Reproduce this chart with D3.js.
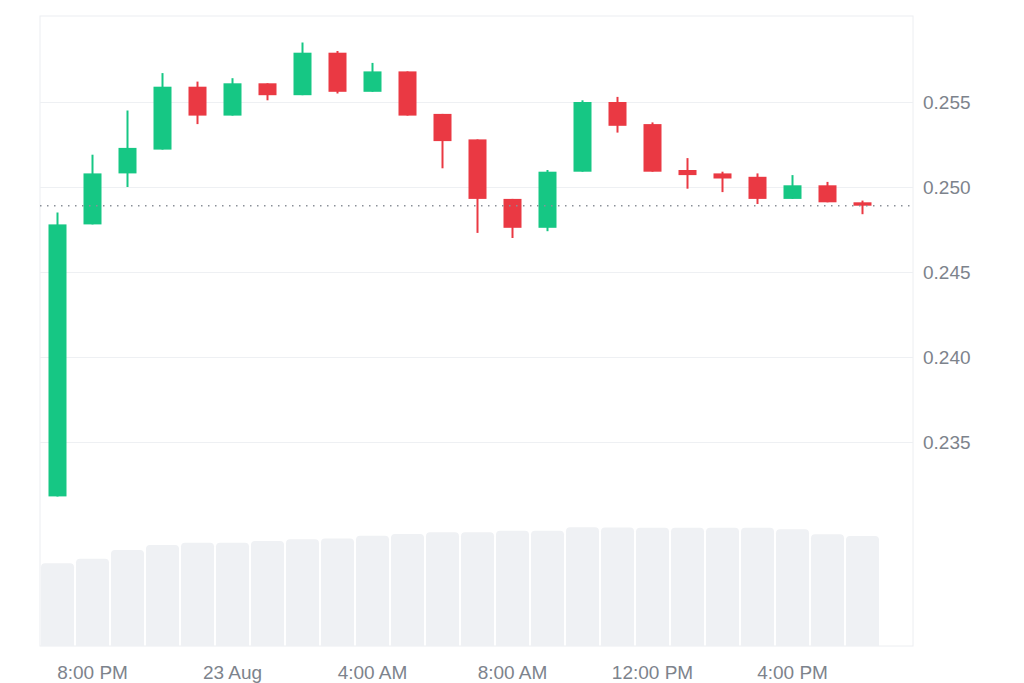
<!DOCTYPE html>
<html>
<head>
<meta charset="utf-8">
<script src="https://cdn.jsdelivr.net/npm/d3@7"></script>
<style>
  html, body { margin: 0; padding: 0; background: #fff; }
  svg { display: block; }
</style>
</head>
<body>
<svg id="chart" width="1024" height="683"></svg>
<script>
// ---- data (hourly candles, 22 Aug 7:00 PM -> 23 Aug 6:00 PM) ----
const hours = ["19:00","20:00","21:00","22:00","23:00","00:00","01:00","02:00","03:00","04:00","05:00","06:00",
               "07:00","08:00","09:00","10:00","11:00","12:00","13:00","14:00","15:00","16:00","17:00","18:00"];
const opens  = [0.2318,0.2478,0.2508,0.2522,0.2559,0.2542,0.2561,0.2554,0.2579,0.2556,0.2568,0.2543,
                0.2528,0.2493,0.2476,0.2509,0.2550,0.2537,0.2510,0.2508,0.2506,0.2493,0.2501,0.2491];
const highs  = [0.2485,0.2519,0.2545,0.2567,0.2562,0.2564,0.2561,0.2585,0.2580,0.2573,0.2568,0.2543,
                0.2528,0.2493,0.2510,0.2551,0.2553,0.2538,0.2517,0.2509,0.2508,0.2507,0.2503,0.2492];
const lows   = [0.2318,0.2478,0.2500,0.2522,0.2537,0.2542,0.2551,0.2554,0.2555,0.2556,0.2542,0.2511,
                0.2473,0.2470,0.2474,0.2509,0.2532,0.2509,0.2499,0.2497,0.2490,0.2493,0.2491,0.2484];
const closes = [0.2478,0.2508,0.2523,0.2559,0.2542,0.2561,0.2554,0.2579,0.2556,0.2568,0.2542,0.2527,
                0.2493,0.2476,0.2509,0.2550,0.2536,0.2509,0.2507,0.2505,0.2493,0.2501,0.2491,0.2489];
const volumes = [82.7,87.3,96.0,101.0,103.3,103.3,105.0,106.7,107.5,110.3,112.0,113.7,
                 113.7,115.3,115.3,118.7,118.5,118.3,118.3,118.3,118.3,116.7,111.7,110.0];
const priceTicks = [0.235,0.240,0.245,0.250,0.255];
const timeTickHours = ["20:00","00:00","04:00","08:00","12:00","16:00"];
const timeTickLabels = ["8:00 PM","23 Aug","4:00 AM","8:00 AM","12:00 PM","4:00 PM"];

// ---- layout ----
const plot = { left: 40, right: 913, top: 16, bottom: 646 };
const UP = "#16c784", DOWN = "#ea3943";
const svg = d3.select("#chart");

const x = d3.scaleBand().domain(hours).range([plot.left, plot.left + 35 * hours.length]).padding(0);
const y = d3.scaleLinear().domain([0.235, 0.255]).range([442, 102]);
const yv = d3.scaleLinear().domain([0, 120]).range([plot.bottom, 526]);

// frame
svg.append("rect")
  .attr("x", plot.left).attr("y", plot.top)
  .attr("width", plot.right - plot.left).attr("height", plot.bottom - plot.top)
  .attr("fill", "none").attr("stroke", "#eceef1").attr("stroke-width", 1);

// gridlines
svg.append("g").selectAll("line").data(priceTicks).join("line")
  .attr("x1", plot.left).attr("x2", plot.right)
  .attr("y1", d => Math.round(y(d)) + 0.5).attr("y2", d => Math.round(y(d)) + 0.5)
  .attr("stroke", "#eef0f3").attr("stroke-width", 1);

// volume bars (rounded top)
const bw = 33;
svg.append("g").selectAll("path").data(volumes).join("path")
  .attr("fill", "#eff1f4")
  .attr("d", (v, i) => {
    const x0 = x(hours[i]) + 1, x1 = x0 + bw, yt = yv(v), yb = plot.bottom, r = 4;
    return `M${x0},${yb}L${x0},${yt + r}Q${x0},${yt} ${x0 + r},${yt}L${x1 - r},${yt}Q${x1},${yt} ${x1},${yt + r}L${x1},${yb}Z`;
  });

// candles
const cw = 18;
const candles = svg.append("g").selectAll("g").data(hours).join("g");
candles.append("line")
  .attr("x1", (h) => x(h) + x.bandwidth() / 2).attr("x2", (h) => x(h) + x.bandwidth() / 2)
  .attr("y1", (h, i) => y(highs[i])).attr("y2", (h, i) => y(lows[i]))
  .attr("stroke", (h, i) => closes[i] >= opens[i] ? UP : DOWN).attr("stroke-width", 2);
candles.append("rect")
  .attr("x", (h) => x(h) + x.bandwidth() / 2 - cw / 2)
  .attr("width", cw)
  .attr("y", (h, i) => y(Math.max(opens[i], closes[i])))
  .attr("height", (h, i) => Math.max(1.5, Math.abs(y(opens[i]) - y(closes[i]))))
  .attr("fill", (h, i) => closes[i] >= opens[i] ? UP : DOWN);

// last price dotted line
const lastY = y(closes[closes.length - 1]);
svg.append("line")
  .attr("x1", plot.left).attr("x2", plot.right)
  .attr("y1", lastY).attr("y2", lastY)
  .attr("stroke", "#8a8f98").attr("stroke-width", 1.5)
  .attr("stroke-dasharray", "1.5,5.5");

// right axis
const yAxis = d3.axisRight(y).tickValues(priceTicks).tickFormat(d3.format(".3f")).tickSize(0).tickPadding(10);
const gy = svg.append("g").attr("transform", `translate(${plot.right},0)`).call(yAxis);
gy.select(".domain").remove();
gy.selectAll("text").attr("fill", "#7d838c").style("font-family", "Liberation Sans, Arial, sans-serif").style("font-size", "19px");

// bottom axis
const labelMap = new Map(timeTickHours.map((h, i) => [h, timeTickLabels[i]]));
const xAxis = d3.axisBottom(x).tickValues(timeTickHours).tickFormat(h => labelMap.get(h)).tickSize(0).tickPadding(20);
const gx = svg.append("g").attr("transform", `translate(0,${plot.bottom})`).call(xAxis);
gx.select(".domain").remove();
gx.selectAll("text").attr("fill", "#7d838c").style("font-family", "Liberation Sans, Arial, sans-serif").style("font-size", "19px");
</script>
</body>
</html>
